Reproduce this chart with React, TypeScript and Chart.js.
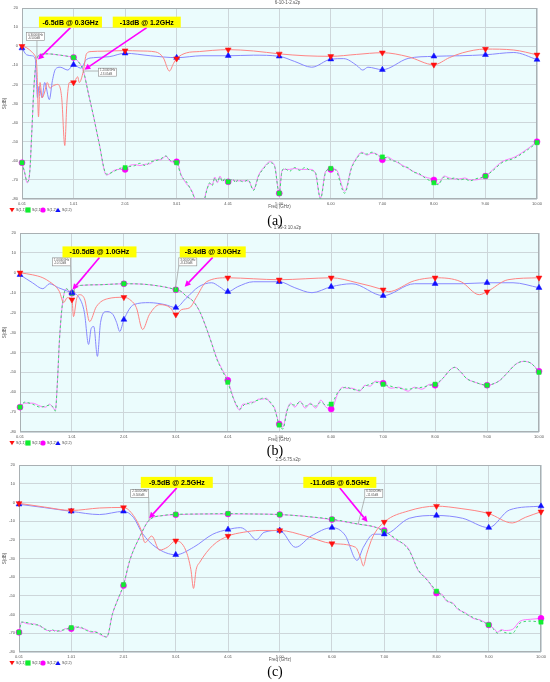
import React, { useEffect, useRef } from "react";
import { Chart, registerables } from "chart.js";
Chart.register(...registerables);

type Pt = [number, number];

const TICKS_F = [0.01, 1.01, 2.01, 3.01, 4.01, 5.0, 6.0, 7.0, 8.0, 9.0, 10.0];
const Y_MIN = -80;
const Y_MAX = 20;
const Y_STEP = 10;
const LEGEND = ["S(1,1)", "S(2,1)", "S(1,2)", "S(2,2)"];
const TITLES = ["6-10-1-2.s2p", "1.99-3 10.s2p", "2.5-6.75.s2p"];
const CAPTIONS = ["(a)", "(b)", "(c)"];

// ---------- Panel (a) ----------
const A_S11: Pt[] = [[0.01,0],[0.1,-0.8],[0.2,-3],[0.25,-4.5],[0.28,-6.5],[0.3,-12],[0.33,-37],[0.36,-19],[0.4,-27],[0.45,-24],[0.5,-19],[0.55,-22],[0.6,-21],[0.7,-20],[0.78,-27],[0.84,-52],[0.88,-30],[0.93,-19],[1.01,-19],[1.09,-16],[1.12,-19],[1.2,-13],[1.26,-4],[1.35,-2.8],[1.6,-2.6],[2.01,-2.3],[2.3,-2.5],[2.6,-3],[2.75,-6],[2.87,-13],[2.95,-9],[3.01,-6.5],[3.2,-3.5],[3.45,-2.8],[3.7,-2.2],[4.01,-1.8],[4.5,-2.5],[5.0,-4],[5.5,-5],[6.0,-5.3],[6.5,-4.3],[7.0,-3.4],[7.5,-5.5],[8.0,-9.7],[8.3,-6],[8.55,-3.5],[9.0,-1.5],[9.55,-2],[10.0,-4.5]];
const A_S22: Pt[] = [[0.01,-1],[0.1,-4.5],[0.2,-5],[0.27,-7],[0.31,-27],[0.34,-21],[0.4,-27],[0.45,-19],[0.54,-28],[0.6,-18],[0.66,-12],[0.75,-11],[0.9,-12.5],[1.01,-9.7],[1.15,-11.5],[1.26,-7],[1.4,-6],[1.7,-5.5],[2.01,-3.7],[2.5,-5],[3.01,-6],[3.5,-5],[4.01,-5],[4.5,-4.7],[5.0,-5.3],[5.3,-8],[5.63,-11],[6.0,-6.8],[6.25,-6.5],[6.5,-10],[6.62,-12.5],[6.72,-11],[7.0,-12.3],[7.5,-6.4],[8.0,-5.3],[8.5,-5],[9.0,-4.5],[9.55,-3.3],[10.0,-7]];
const A_S21: Pt[] = [[0.01,-61],[0.06,-66],[0.11,-71],[0.16,-66],[0.2,-45],[0.24,-22],[0.28,-9],[0.3,-6.5],[0.35,-4.5],[0.5,-4],[0.7,-4.5],[0.9,-5.3],[1.01,-5.9],[1.1,-8],[1.2,-13],[1.3,-25],[1.4,-37],[1.5,-50],[1.65,-67],[1.8,-65.5],[1.9,-64],[2.01,-63.6],[2.1,-63],[2.2,-62.5],[2.3,-61.3],[2.4,-62.5],[2.5,-60.5],[2.6,-60],[2.7,-59],[2.8,-57.5],[2.9,-60],[3.01,-61],[3.1,-68],[3.2,-71],[3.3,-76],[3.4,-82],[3.5,-84],[3.6,-75],[3.65,-71.5],[3.7,-73],[3.75,-69],[3.8,-71],[3.85,-68.5],[3.9,-71],[3.95,-69],[4.01,-71],[4.1,-69.5],[4.15,-71.5],[4.2,-70],[4.3,-71],[4.4,-70],[4.5,-75.5],[4.6,-68],[4.7,-64],[4.82,-61],[4.91,-63],[5.0,-77],[5.05,-66],[5.1,-64],[5.2,-65.5],[5.3,-63.5],[5.4,-65],[5.5,-63.5],[5.6,-65],[5.7,-66],[5.8,-80],[5.9,-66],[6.0,-64],[6.1,-65],[6.27,-77],[6.4,-64],[6.5,-59],[6.6,-56],[6.7,-56.5],[6.8,-55.5],[6.9,-57],[7.0,-58],[7.1,-58.5],[7.2,-60],[7.3,-60.5],[7.4,-63],[7.5,-63.5],[7.6,-66],[7.7,-66.5],[7.83,-69],[8.0,-71.5],[8.08,-72.5],[8.2,-68.5],[8.3,-69.5],[8.4,-69],[8.5,-70],[8.6,-69.5],[8.7,-70.5],[8.8,-69.5],[9.0,-68],[9.15,-65],[9.32,-61],[9.57,-58.5],[9.83,-54],[10.0,-50.5]];
const A_S12: Pt[] = [[0.01,-61],[0.06,-66],[0.11,-71.5],[0.16,-66],[0.2,-45],[0.24,-22],[0.28,-9],[0.3,-6.5],[0.35,-4.5],[0.5,-4],[0.7,-4.5],[0.9,-5.3],[1.01,-5.9],[1.1,-8],[1.2,-13],[1.3,-25],[1.4,-37],[1.5,-50],[1.65,-67.5],[1.8,-65],[1.9,-64.5],[2.01,-64.5],[2.1,-62.5],[2.2,-62],[2.3,-62.5],[2.4,-61.8],[2.5,-61.5],[2.6,-59.5],[2.7,-59.5],[2.8,-57.5],[2.9,-60.5],[3.01,-60.5],[3.1,-67.5],[3.2,-72],[3.3,-75.5],[3.4,-82],[3.5,-84],[3.6,-74.5],[3.65,-72],[3.7,-72.5],[3.75,-68.5],[3.8,-71.5],[3.85,-68],[3.9,-70.5],[3.95,-70],[4.01,-71],[4.1,-70],[4.15,-70.5],[4.2,-70.5],[4.3,-70.5],[4.4,-70.5],[4.5,-75],[4.6,-67.5],[4.7,-63.5],[4.82,-60.5],[4.91,-62.5],[5.0,-77],[5.05,-65.5],[5.1,-64.5],[5.2,-64.5],[5.3,-64],[5.4,-64.5],[5.5,-64.5],[5.6,-64.5],[5.7,-66.5],[5.8,-79.5],[5.9,-65.5],[6.0,-64.5],[6.1,-64.5],[6.27,-76],[6.4,-63.5],[6.5,-58.5],[6.6,-55.5],[6.7,-57],[6.8,-56],[6.9,-56.5],[7.0,-59.5],[7.1,-58],[7.2,-59.5],[7.3,-61],[7.4,-62.5],[7.5,-64],[7.6,-65.5],[7.7,-67],[7.83,-68.5],[8.0,-70],[8.08,-72],[8.2,-68],[8.3,-69],[8.4,-69.5],[8.5,-69.5],[8.6,-69],[8.7,-70],[8.8,-70],[9.0,-68],[9.15,-64.5],[9.32,-60.5],[9.57,-58],[9.83,-53.5],[10.0,-50]];

// ---------- Panel (b) ----------
const B_S11: Pt[] = [[0.01,0],[0.25,-1],[0.45,-2.5],[0.58,-4.5],[0.7,-7],[0.77,-9.5],[0.85,-15],[0.92,-12.5],[1.01,-13.5],[1.04,-22],[1.1,-13],[1.15,-11],[1.25,-13],[1.35,-24.5],[1.48,-17],[1.7,-13],[2.01,-12.3],[2.15,-14],[2.25,-17.5],[2.37,-28.5],[2.5,-21],[2.7,-16],[2.9,-17.5],[3.01,-21],[3.12,-18.5],[3.28,-17.5],[3.4,-12.5],[3.6,-4.5],[4.01,-2.5],[4.5,-3],[5.0,-3.5],[5.5,-3],[6.0,-2.5],[6.5,-5],[7.0,-8.5],[7.1,-9.5],[7.6,-4],[8.0,-2.5],[8.5,-4.5],[8.85,-11],[9.0,-9.5],[9.4,-3.5],[10.0,-2.5]];
const B_S22: Pt[] = [[0.01,-1],[0.25,-5],[0.45,-8],[0.58,-5.5],[0.75,-7.5],[0.9,-9],[1.01,-10],[1.15,-12.5],[1.25,-20],[1.33,-36],[1.38,-28],[1.43,-27],[1.5,-42],[1.56,-25],[1.67,-19.5],[1.8,-21],[1.87,-25],[1.93,-29.5],[2.01,-23.5],[2.2,-16],[2.5,-15],[2.8,-16],[3.01,-17.5],[3.2,-13],[3.45,-7],[3.7,-5],[3.85,-7],[4.01,-9.5],[4.2,-7],[4.5,-4.5],[5.0,-4.5],[5.3,-7.5],[5.63,-10],[6.0,-7],[6.4,-5.5],[7.0,-11.5],[7.6,-5.5],[8.0,-5.5],[8.5,-5.5],[9.0,-5],[9.5,-5],[10.0,-7.5]];
const B_S21: Pt[] = [[0.01,-67.5],[0.1,-65],[0.25,-66],[0.4,-67.5],[0.5,-67],[0.58,-66.5],[0.65,-67.5],[0.69,-69.5],[0.73,-55],[0.77,-33.5],[0.83,-15],[0.9,-8],[0.95,-9],[1.0,-10.5],[1.01,-10.3],[1.1,-7],[1.2,-6.3],[1.55,-6],[2.01,-5.5],[2.5,-6],[3.0,-8.4],[3.01,-8.5],[3.12,-9.5],[3.2,-11.5],[3.35,-14.5],[3.47,-19.5],[3.6,-28],[3.7,-35.5],[3.8,-43.5],[3.9,-49],[4.01,-55],[4.1,-62],[4.17,-66],[4.24,-68.5],[4.3,-67],[4.37,-65.5],[4.45,-66],[4.52,-64.5],[4.6,-64],[4.68,-63],[4.75,-63.5],[4.83,-65],[4.91,-68.5],[5.0,-76.5],[5.07,-78.5],[5.15,-69.5],[5.22,-66],[5.3,-66.5],[5.4,-65],[5.5,-67],[5.6,-66],[5.7,-67],[5.8,-65],[5.9,-66.5],[6.0,-66],[6.13,-60],[6.22,-58],[6.3,-57.5],[6.4,-58.5],[6.55,-59],[6.65,-57],[6.75,-56],[6.85,-55],[7.0,-56],[7.15,-57],[7.3,-58],[7.48,-58.5],[7.6,-58],[7.75,-57.5],[7.9,-56.5],[8.0,-56],[8.15,-53],[8.3,-48.5],[8.38,-47.5],[8.5,-50],[8.6,-53],[8.77,-55],[9.0,-56.5],[9.15,-55.5],[9.25,-54],[9.4,-50],[9.55,-46],[9.7,-44.5],[9.85,-45.5],[10.0,-50]];
const B_S12: Pt[] = [[0.01,-67.5],[0.1,-65.5],[0.25,-65.5],[0.4,-67],[0.5,-67.5],[0.58,-66],[0.65,-68],[0.69,-69],[0.73,-55],[0.77,-33.5],[0.83,-15],[0.9,-8],[0.95,-9],[1.0,-10.5],[1.01,-10.3],[1.1,-7],[1.2,-6.3],[1.55,-6],[2.01,-5.5],[2.5,-6],[3.0,-8.4],[3.01,-8.5],[3.12,-9.5],[3.2,-11.5],[3.35,-14.5],[3.47,-19.5],[3.6,-28],[3.7,-35.5],[3.8,-43],[3.9,-48.5],[4.01,-54],[4.1,-61.5],[4.17,-66.5],[4.24,-69],[4.3,-66],[4.37,-66],[4.45,-65],[4.52,-65],[4.6,-63.5],[4.68,-63.5],[4.75,-63],[4.83,-65.5],[4.91,-68],[5.0,-76],[5.07,-77.5],[5.15,-69],[5.22,-65.5],[5.3,-67.5],[5.4,-64.5],[5.5,-68],[5.6,-65.5],[5.7,-68],[5.8,-64],[5.9,-67.5],[6.0,-68.5],[6.13,-60.5],[6.22,-57.5],[6.3,-58],[6.4,-58],[6.55,-59.5],[6.65,-56.5],[6.75,-57],[6.85,-54.5],[7.0,-55.5],[7.15,-58],[7.3,-57.5],[7.48,-59.5],[7.6,-57.5],[7.75,-58.5],[7.9,-56],[8.0,-56.5],[8.15,-53],[8.3,-48.5],[8.38,-47.5],[8.5,-50],[8.6,-53],[8.77,-55],[9.0,-56.5],[9.15,-55.5],[9.25,-54],[9.4,-50],[9.55,-46],[9.7,-44.5],[9.85,-45.5],[10.0,-49.5]];

// ---------- Panel (c) ----------
const C_S11: Pt[] = [[0.01,-0.5],[0.5,-2.5],[1.01,-4.3],[1.55,-3],[2.01,-2.7],[2.2,-7],[2.35,-15],[2.42,-21.5],[2.55,-18],[2.7,-25.5],[2.85,-24],[3.01,-20.5],[3.2,-25.5],[3.3,-36],[3.35,-46],[3.4,-36],[3.47,-32],[3.72,-23],[4.01,-18],[4.3,-16],[4.62,-15],[5.0,-15],[5.5,-18],[6.0,-22],[6.45,-24],[6.55,-30],[6.6,-34],[6.66,-28],[6.78,-18.5],[7.0,-10.5],[7.47,-4.5],[8.0,-2],[8.47,-3.3],[9.0,-6],[9.45,-11],[9.7,-8],[10.0,-5]];
const C_S22: Pt[] = [[0.01,-1],[0.5,-2.8],[1.01,-4.8],[1.55,-6.5],[2.01,-4.8],[2.2,-8],[2.37,-16.5],[2.63,-24],[3.01,-28],[3.35,-24],[3.72,-17],[4.01,-14.5],[4.25,-13.5],[4.4,-16],[4.55,-20],[4.7,-16],[5.0,-15],[5.3,-24],[5.6,-18],[6.0,-13.5],[6.25,-17.5],[6.48,-31],[6.6,-24],[6.8,-17],[7.0,-17],[7.48,-8.5],[8.0,-7],[8.5,-8.5],[9.0,-13.5],[9.4,-4],[10.0,-2]];
const C_S21: Pt[] = [[0.01,-69.5],[0.06,-64],[0.2,-64.5],[0.3,-65.5],[0.4,-65.5],[0.47,-67.5],[0.55,-68],[0.6,-69],[0.65,-68],[0.7,-69],[0.8,-68.5],[0.9,-68],[1.01,-67],[1.1,-67],[1.17,-66.5],[1.3,-68.5],[1.4,-69],[1.48,-69.5],[1.55,-70],[1.69,-72],[1.8,-59.5],[1.9,-52],[2.01,-44],[2.13,-31],[2.32,-18.5],[2.5,-9.5],[2.77,-7],[3.01,-6.4],[3.5,-6.2],[4.01,-6],[4.5,-6.2],[5.0,-6.5],[5.5,-7.5],[6.0,-9],[6.5,-11.6],[6.8,-13],[7.0,-15.5],[7.2,-19],[7.47,-25.5],[7.65,-36],[7.8,-41],[7.9,-44],[8.0,-47.5],[8.1,-49.5],[8.2,-52.5],[8.3,-54],[8.4,-56.5],[8.55,-59.5],[8.7,-61.5],[8.85,-63.5],[9.0,-65.5],[9.1,-68],[9.17,-70],[9.24,-68.5],[9.3,-69.5],[9.45,-70],[9.6,-64.5],[9.8,-63.5],[10.0,-64]];
const C_S12: Pt[] = [[0.01,-69.5],[0.06,-64],[0.2,-65],[0.3,-65],[0.4,-66],[0.47,-67],[0.55,-68.5],[0.6,-68.5],[0.65,-68.5],[0.7,-68.5],[0.8,-69],[0.9,-67.5],[1.01,-67.5],[1.1,-66.5],[1.17,-67],[1.3,-68],[1.4,-69.5],[1.48,-69],[1.55,-70.5],[1.69,-72],[1.8,-59.5],[1.9,-52],[2.01,-44.5],[2.13,-31],[2.32,-18.5],[2.5,-9.5],[2.77,-7],[3.01,-6.6],[3.5,-6.2],[4.01,-6.2],[4.5,-6.2],[5.0,-6.5],[5.5,-7.5],[6.0,-9.2],[6.5,-11.6],[6.8,-13],[7.0,-15],[7.2,-19.5],[7.47,-25],[7.65,-36.5],[7.8,-40.5],[7.9,-44.5],[8.0,-48.5],[8.1,-49],[8.2,-53],[8.3,-53.5],[8.4,-57],[8.55,-59],[8.7,-62],[8.85,-63],[9.0,-65.5],[9.1,-67.5],[9.17,-69.5],[9.24,-68],[9.3,-68.5],[9.45,-68],[9.6,-63.5],[9.8,-62.5],[10.0,-62]];

// annotations: yellow labels with arrows, small marker read-outs
const A_NOTES = [
  { text: "-6.5dB @ 0.3GHz", box: [0.95, 12.6], w: 63, tip: [0.32, -7] },
  { text: "-13dB @ 1.2GHz", box: [2.43, 12.6], w: 68, tip: [1.22, -12.3] },
];
const A_READ = [
  { lines: ["0.3000GHz", "-6.500dB"], at: [0.27, 5], target: [0.3, -6.5] },
  { lines: ["1.2000GHz", "-13.01dB"], at: [1.67, -13.6], target: [1.2, -13] },
];
const B_NOTES = [
  { text: "-10.5dB @ 1.0GHz", box: [1.54, 10.5], w: 74, tip: [1.02, -8.5] },
  { text: "-8.4dB @ 3.0GHz", box: [3.72, 10.5], w: 66, tip: [3.18, -7] },
];
const B_READ = [
  { lines: ["1.0000GHz", "-10.52dB"], at: [0.81, 5.5], target: [1.0, -10.5] },
  { lines: ["3.0000GHz", "-8.426dB"], at: [3.24, 5.5], target: [3.0, -8.4] },
];
const C_NOTES = [
  { text: "-9.5dB @ 2.5GHz", box: [3.03, 10.7], w: 72, tip: [2.5, -8.5] },
  { text: "-11.6dB @ 6.5GHz", box: [6.15, 10.7], w: 73, tip: [6.68, -10.5] },
];
const C_READ = [
  { lines: ["2.5000GHz", "-9.506dB"], at: [2.32, 4.8], target: [2.5, -9.5] },
  { lines: ["6.5000GHz", "-11.61dB"], at: [6.8, 4.8], target: [6.5, -11.6] },
];

const FONT = "'Liberation Sans', Arial, sans-serif";
const COL = {
  s11: "#ff8585", s11m: "#ff1010",
  s21: "#3bd86e", s21m: "#10ee30",
  s12: "#ff78ff", s12m: "#ff00ff",
  s22: "#8888ff", s22m: "#1010ff",
};

interface PanelCfg {
  idx: number;
  top: number; height: number; left: number; right: number; padTop: number; axisH: number;
  s11: Pt[]; s21: Pt[]; s12: Pt[]; s22: Pt[];
  notes: any[]; reads: any[];
}

const PANELS: PanelCfg[] = [
  { idx: 0, top: 0, height: 214, left: 22, right: 13, padTop: 8, axisH: 15, s11: A_S11, s21: A_S21, s12: A_S12, s22: A_S22, notes: A_NOTES, reads: A_READ },
  { idx: 1, top: 224, height: 224, left: 20, right: 11, padTop: 9, axisH: 16, s11: B_S11, s21: B_S21, s12: B_S12, s22: B_S22, notes: B_NOTES, reads: B_READ },
  { idx: 2, top: 456, height: 212, left: 19, right: 9, padTop: 9, axisH: 16, s11: C_S11, s21: C_S21, s12: C_S12, s22: C_S22, notes: C_NOTES, reads: C_READ },
];

function drawMarker(ctx: CanvasRenderingContext2D, kind: string, x: number, y: number, r: number, color: string) {
  ctx.fillStyle = color;
  ctx.beginPath();
  if (kind === "down") {
    ctx.moveTo(x - r, y - r * 0.8); ctx.lineTo(x + r, y - r * 0.8); ctx.lineTo(x, y + r * 0.9);
  } else if (kind === "up") {
    ctx.moveTo(x - r, y + r * 0.8); ctx.lineTo(x + r, y + r * 0.8); ctx.lineTo(x, y - r * 0.9);
  } else if (kind === "rect") {
    ctx.rect(x - r, y - r, 2 * r, 2 * r);
  } else {
    ctx.arc(x, y, r, 0, Math.PI * 2);
  }
  ctx.closePath();
  ctx.fill();
}

function Panel({ cfg }: { cfg: PanelCfg }) {
  const ref = useRef<HTMLCanvasElement>(null);
  useEffect(() => {
    const canvas = ref.current!;
    const mk = (pts: Pt[]) => pts.map(([x, y]) => ({ x, y }));
    const isTick = (c: any) => c.raw && TICKS_F.includes(c.raw.x);
    const ds = (label: string, pts: Pt[], line: string, mark: string, style: string, rot: number, r: number, dash: number[] = []) => ({
      label,
      data: mk(pts),
      borderColor: line,
      backgroundColor: mark,
      pointBackgroundColor: mark,
      pointBorderColor: mark,
      borderWidth: 1,
      borderDash: dash,
      pointStyle: style,
      pointRotation: rot,
      pointRadius: (c: any) => (isTick(c) ? r : 0),
      pointBorderWidth: 0.5,
      pointHoverRadius: 0,
      cubicInterpolationMode: "monotone",
      clip: { left: 6, right: 6, top: 6, bottom: 0 },
    });

    const deco = {
      id: "deco",
      beforeDraw(chart: any) {
        const { ctx, chartArea: a } = chart;
        ctx.save();
        ctx.fillStyle = "#ebfcfd";
        ctx.fillRect(a.left, a.top, a.right - a.left, a.bottom - a.top);
        ctx.restore();
      },
      beforeDatasetsDraw(chart: any) {
        const { ctx, chartArea: a } = chart;
        ctx.save();
        ctx.strokeStyle = "#a9b0b3";
        ctx.lineWidth = 1;
        ctx.strokeRect(a.left + 0.5, a.top + 0.5, a.right - a.left - 1, a.bottom - a.top - 1);
        ctx.restore();
      },
      afterDraw(chart: any) {
        const { ctx, chartArea: a, scales } = chart;
        const X = scales.x, Y = scales.y;
        const px = (f: number) => X.getPixelForValue(f);
        const py = (d: number) => Y.getPixelForValue(d);
        ctx.save();
        ctx.fillStyle = "#555";
        ctx.font = `4.5px ${FONT}`;
        ctx.textAlign = "center";
        ctx.textBaseline = "middle";
        ctx.fillText(TITLES[cfg.idx], (a.left + a.right) / 2 + 8, a.top - 5);
        ctx.fillText("Freq (GHz)", (a.left + a.right) / 2, a.bottom + 8);
        ctx.save();
        ctx.translate(5, (a.top + a.bottom) / 2);
        ctx.rotate(-Math.PI / 2);
        ctx.fillText("S(dB)", 0, 0);
        ctx.restore();
        // legend
        const ly = a.bottom + 11;
        const kinds = ["down", "rect", "circle", "up"];
        const cols = [COL.s11m, COL.s21m, COL.s12m, COL.s22m];
        const lx = [12, 28, 43, 58];
        for (let i = 0; i < 4; i++) {
          drawMarker(ctx, kinds[i], lx[i], ly, 2.6, cols[i]);
          ctx.fillStyle = "#444";
          ctx.font = `3.6px ${FONT}`;
          ctx.textAlign = "left";
          ctx.fillText(LEGEND[i], lx[i] + 4, ly);
        }
        // read-out boxes
        for (const r of cfg.reads) {
          const cx = px(r.at[0]), cy = py(r.at[1]);
          const w = 18, h = 8;
          const tx = px(r.target[0]), ty = py(r.target[1]);
          const ex = Math.max(cx - w / 2, Math.min(cx + w / 2, tx));
          const ey = Math.max(cy - h / 2, Math.min(cy + h / 2, ty));
          ctx.strokeStyle = "#9a9a9a";
          ctx.lineWidth = 0.7;
          ctx.beginPath(); ctx.moveTo(ex, ey); ctx.lineTo(tx, ty); ctx.stroke();
          ctx.fillStyle = "#ffffff";
          ctx.fillRect(cx - w / 2, cy - h / 2, w, h);
          ctx.strokeStyle = "#8a8a8a";
          ctx.lineWidth = 0.6;
          ctx.strokeRect(cx - w / 2, cy - h / 2, w, h);
          ctx.fillStyle = "#555";
          ctx.font = `3px ${FONT}`;
          ctx.textAlign = "left";
          ctx.fillText(r.lines[0], cx - w / 2 + 1.5, cy - 1.8);
          ctx.fillText(r.lines[1], cx - w / 2 + 1.5, cy + 1.8);
        }
        // yellow notes with arrows
        for (const n of cfg.notes) {
          const cx = px(n.box[0]), cy = py(n.box[1]);
          const w = n.w, h = 11;
          const sx = cx, sy = cy + h / 2;
          const tx = px(n.tip[0]), ty = py(n.tip[1]);
          ctx.strokeStyle = "#ff00ff";
          ctx.fillStyle = "#ff00ff";
          ctx.lineWidth = 1.6;
          const ang = Math.atan2(ty - sy, tx - sx);
          const hl = 6;
          const bx = tx - Math.cos(ang) * hl, by = ty - Math.sin(ang) * hl;
          ctx.beginPath(); ctx.moveTo(sx, sy); ctx.lineTo(bx, by); ctx.stroke();
          ctx.beginPath();
          ctx.moveTo(tx, ty);
          ctx.lineTo(bx + Math.cos(ang + Math.PI / 2) * 3, by + Math.sin(ang + Math.PI / 2) * 3);
          ctx.lineTo(bx - Math.cos(ang + Math.PI / 2) * 3, by - Math.sin(ang + Math.PI / 2) * 3);
          ctx.closePath(); ctx.fill();
          ctx.fillStyle = "#ffff00";
          ctx.fillRect(cx - w / 2, cy - h / 2, w, h);
          ctx.fillStyle = "#000";
          ctx.font = `bold 7px ${FONT}`;
          ctx.textAlign = "center";
          ctx.textBaseline = "middle";
          ctx.fillText(n.text, cx, cy + 0.5);
        }
        ctx.restore();
      },
    };

    const chart = new Chart(canvas, {
      type: "line",
      data: {
        datasets: [
          ds(LEGEND[0], cfg.s11, COL.s11, COL.s11m, "triangle", 180, 3.4),
          ds(LEGEND[3], cfg.s22, COL.s22, COL.s22m, "triangle", 0, 3.4),
          ds(LEGEND[1], cfg.s21, COL.s21, COL.s21m, "rect", 0, 3, [2.5, 2.5]),
          ds(LEGEND[2], cfg.s12, COL.s12, COL.s12m, "circle", 0, 3),
        ] as any,
      },
      options: {
        responsive: false,
        animation: false,
        events: [],
        devicePixelRatio: 1,
        layout: { padding: { top: cfg.padTop, right: cfg.right, left: 0, bottom: 0 } },
        plugins: { legend: { display: false }, tooltip: { enabled: false }, title: { display: false } },
        scales: {
          x: {
            type: "linear",
            min: 0.01,
            max: 10,
            afterBuildTicks: (s: any) => { s.ticks = TICKS_F.map((v) => ({ value: v })); },
            afterFit: (s: any) => { s.height = cfg.axisH; },
            ticks: {
              autoSkip: false,
              maxRotation: 0,
              padding: 2,
              font: { size: 4, family: FONT },
              color: "#555",
              callback: (v: any) => Number(v).toFixed(2),
            },
            grid: { color: "#cdd6da", lineWidth: 1, drawTicks: false },
            border: { display: false },
          },
          y: {
            type: "linear",
            min: Y_MIN,
            max: Y_MAX,
            afterFit: (s: any) => { s.width = cfg.left; },
            ticks: { stepSize: Y_STEP, padding: 4, font: { size: 4, family: FONT }, color: "#555" },
            grid: { color: "#cdd6da", lineWidth: 1, drawTicks: false },
            border: { display: false },
          },
        },
      },
      plugins: [deco as any],
    });
    return () => chart.destroy();
  }, [cfg]);

  return (
    <canvas
      ref={ref}
      width={550}
      height={cfg.height}
      style={{ position: "absolute", left: 0, top: cfg.top, width: 550, height: cfg.height, display: "block" }}
    />
  );
}

const CAPTION_TOPS = [213, 443, 664];

export default function App() {
  return (
    <div style={{ position: "absolute", left: 0, top: 0, width: 550, height: 682, background: "#fff", overflow: "hidden" }}>
      {PANELS.map((p) => (
        <Panel key={p.idx} cfg={p} />
      ))}
      {CAPTIONS.map((c, i) => (
        <div
          key={c}
          style={{
            position: "absolute",
            left: 0,
            width: 550,
            top: CAPTION_TOPS[i],
            textAlign: "center",
            font: "14px 'Liberation Serif', 'Times New Roman', serif",
            lineHeight: "16px",
            color: "#000",
          }}
        >
          {c}
        </div>
      ))}
    </div>
  );
}
